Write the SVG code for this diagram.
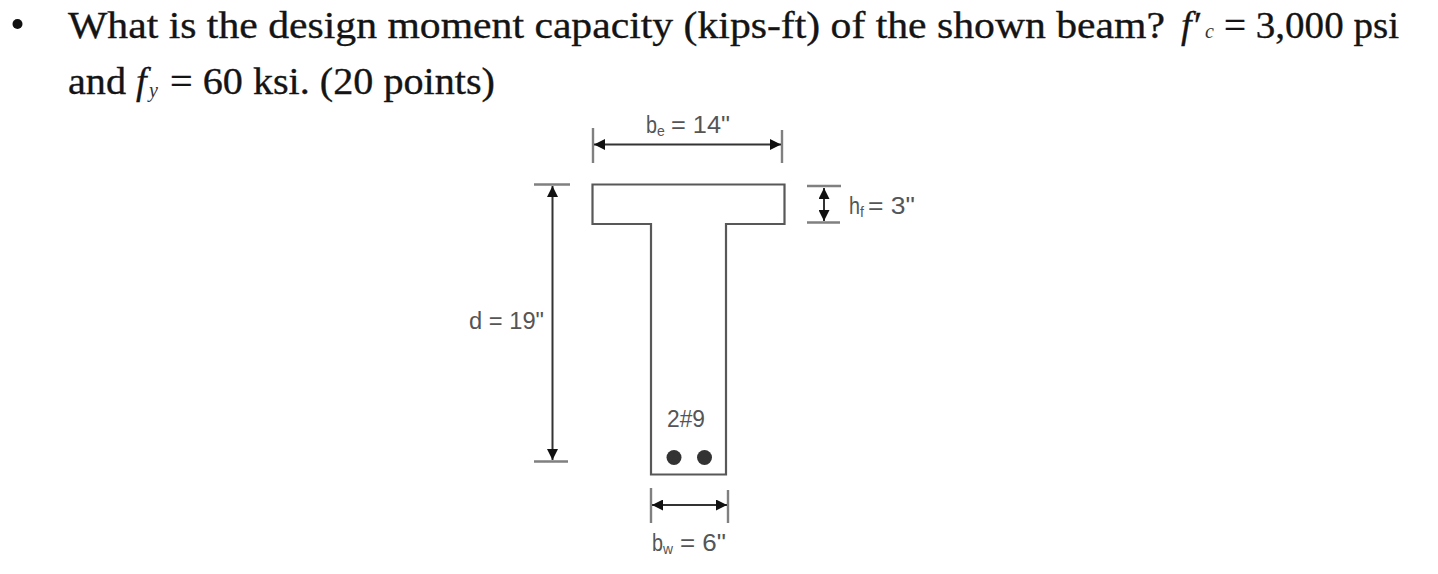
<svg xmlns="http://www.w3.org/2000/svg" width="1438" height="574" viewBox="0 0 1438 574">
<style>
.q{font-family:"Liberation Serif","Noto Serif",serif;font-size:38px;fill:#141414;stroke:#141414;stroke-width:.35}
.qi{font-style:italic}
.sub{font-size:20px;font-style:italic;fill:#333;stroke:none}
.l{font-family:"Liberation Sans",Arial,sans-serif;font-size:23px;fill:#555}
.ls{font-family:"Liberation Sans",Arial,sans-serif;font-size:14px;fill:#555}
.dim{stroke:#333;stroke-width:2;fill:none}
.ext{stroke:#808080;stroke-width:2.400;fill:none}
.beam{stroke:#585858;stroke-width:2.200;fill:#fff}
</style>
<defs>
<marker id="a" viewBox="0 0 10 10" refX="10" refY="5" markerWidth="11" markerHeight="11" markerUnits="userSpaceOnUse" orient="auto-start-reverse"><path d="M0 0L10 5L0 10Z" fill="#111"/></marker>
</defs>
<rect width="1438" height="574" fill="#fff"/>
<g id="question">
<circle cx="17.500" cy="24" r="5" fill="#111"/>
<text class="q" x="68" y="38" textLength="1097" lengthAdjust="spacingAndGlyphs">What is the design moment capacity (kips-ft) of the shown beam?</text>
<text class="q qi" x="1181" y="38">f′</text>
<text class="q sub" x="1205" y="38">c</text>
<text class="q" x="1224" y="38" textLength="175" lengthAdjust="spacingAndGlyphs">= 3,000 psi</text>
<text class="q" x="68" y="94" textLength="58" lengthAdjust="spacingAndGlyphs">and</text>
<text class="q qi" x="136" y="94">f</text>
<text class="q sub" x="149" y="97">y</text>
<text class="q" x="170" y="94" textLength="325" lengthAdjust="spacingAndGlyphs">= 60 ksi. (20 points)</text>
</g>
<g id="connectors">
<path class="ext" d="M593 128V163M782 130V163M534 184.500H570M534 461.500H568M807 186H841M807 222.500H840M651 488V523M728 490V523"/>
<path class="dim" marker-start="url(#a)" marker-end="url(#a)" d="M594 144.500H781"/>
<path class="dim" marker-start="url(#a)" marker-end="url(#a)" d="M552.500 186V460"/>
<path class="dim" marker-start="url(#a)" marker-end="url(#a)" d="M824 188V221"/>
<path class="dim" marker-start="url(#a)" marker-end="url(#a)" d="M652 505H727"/>
</g>
<g id="beam">
<path class="beam" d="M592.500 184.500H784.500V224H726V474.500H651V224H592.500Z"/>
</g>
<g id="bars">
<circle cx="674" cy="457.500" r="7.500" fill="#333"/>
<circle cx="704.500" cy="457.500" r="7.500" fill="#333"/>
<text class="l" x="667" y="427" textLength="38" lengthAdjust="spacingAndGlyphs">2#9</text>
</g>
<g id="labels">
<text class="l" x="646" y="133" textLength="11" lengthAdjust="spacingAndGlyphs">b</text><text class="ls" x="657" y="136">e</text><text class="l" x="671" y="133" textLength="59" lengthAdjust="spacingAndGlyphs">= 14"</text>
<text class="l" x="849" y="214" textLength="11" lengthAdjust="spacingAndGlyphs">h</text><text class="ls" x="860" y="217">f</text><text class="l" x="868" y="214" textLength="47" lengthAdjust="spacingAndGlyphs">= 3"</text>
<text class="l" x="469" y="329" textLength="75" lengthAdjust="spacingAndGlyphs">d = 19"</text>
<text class="l" x="652" y="551" textLength="11" lengthAdjust="spacingAndGlyphs">b</text><text class="ls" x="663" y="554" textLength="10" lengthAdjust="spacingAndGlyphs">w</text><text class="l" x="680" y="551" textLength="46" lengthAdjust="spacingAndGlyphs">= 6"</text>
</g>
</svg>
